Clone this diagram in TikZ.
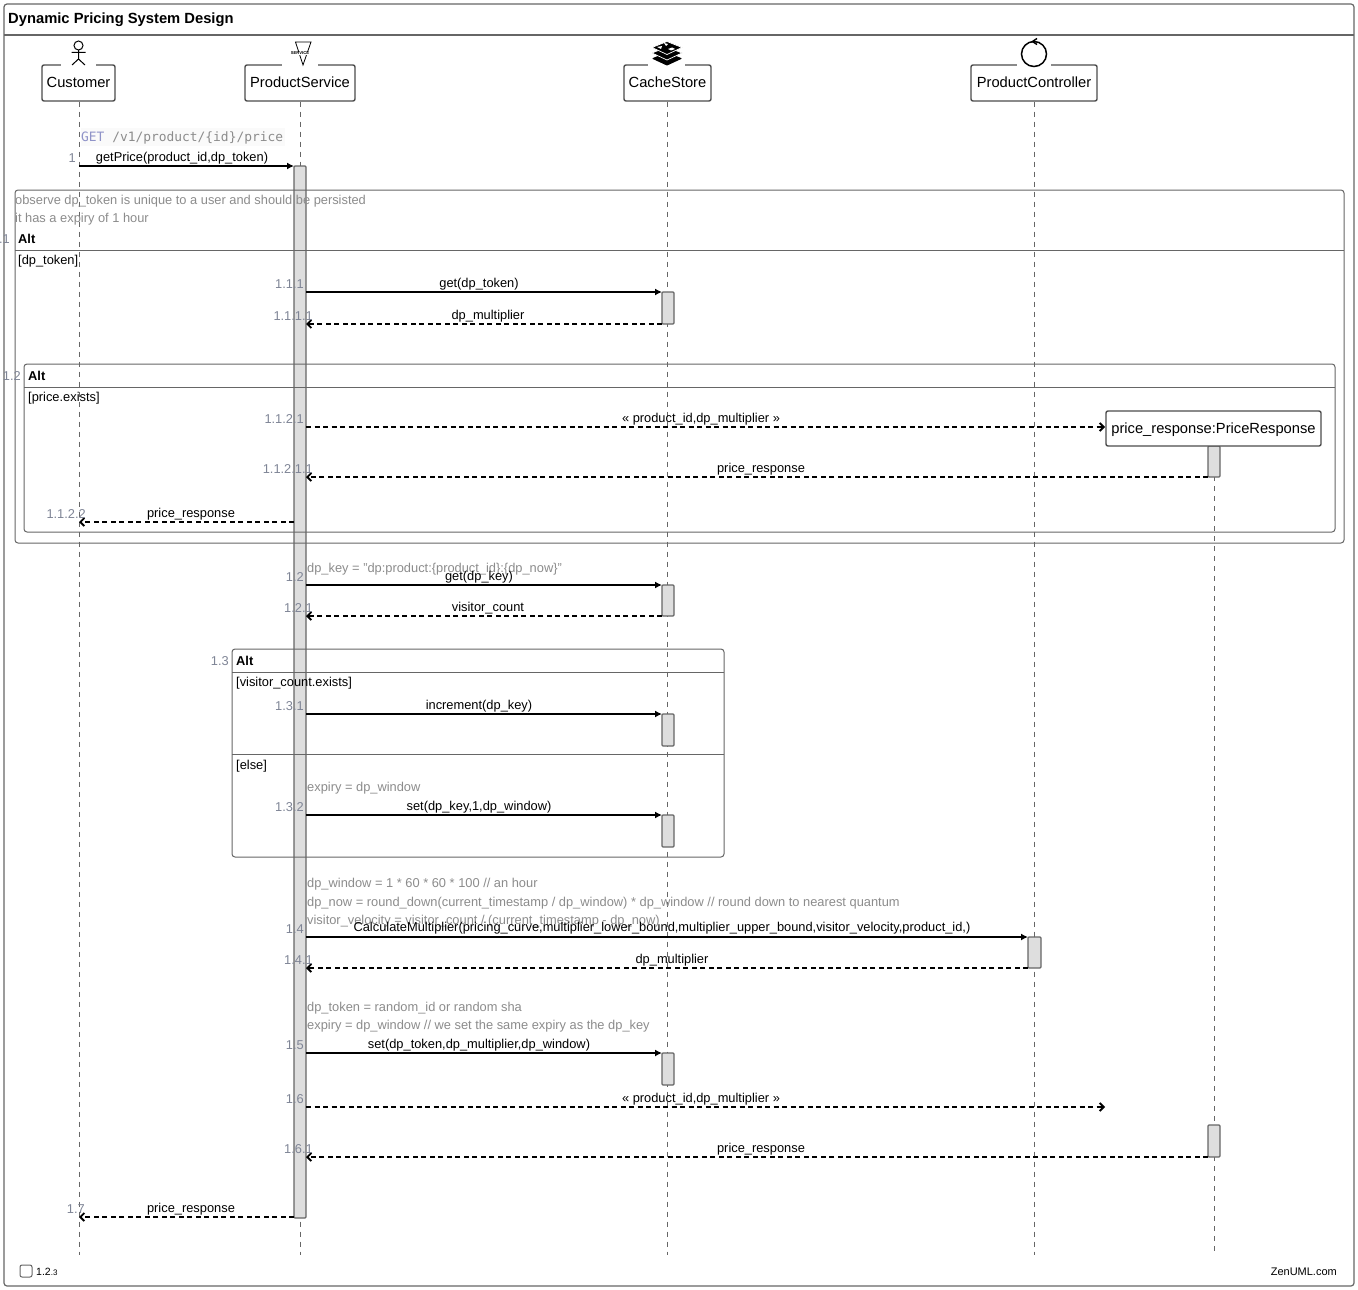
\documentclass[tikz,border=0pt]{standalone}
\usepackage{fontspec}
\setmainfont{Liberation Sans}
\setmonofont{DejaVu Sans Mono}
\usetikzlibrary{arrows.meta}
\definecolor{framegray}{HTML}{666666}
\definecolor{notegray}{HTML}{8C8C8C}
\definecolor{numgray}{HTML}{7F8596}
\definecolor{bargray}{HTML}{DEDEDE}
\definecolor{verbblue}{HTML}{8F93C8}
\tikzset{
  actorbox/.style={draw=black!70, line width=1.4pt, rounded corners=2pt, fill=white, inner sep=0pt, minimum height=36pt, text height=12.5pt, text depth=3pt, font=\fontsize{14.7}{17}\selectfont},
  lifeline/.style={draw=framegray, line width=0.9pt, dash pattern=on 5pt off 5pt},
  actbar/.style={draw=framegray, line width=1.3pt, fill=bargray, rounded corners=1pt},
  frag/.style={draw=framegray, line width=1pt, rounded corners=3pt},
  sync/.style={draw=black, line width=1.7pt, -{Latex[length=7pt,width=7pt]}},
  reply/.style={draw=black, line width=1.7pt, dash pattern=on 5pt off 3.5pt, -{Straight Barb[length=4pt,width=8pt,line width=1.9pt]}},
  lbl/.style={inner sep=0pt, text height=9.5pt, text depth=3pt, yshift=8.2pt, font=\fontsize{12.85}{15}\selectfont},
  txt/.style={inner sep=0pt, anchor=west, text height=9.5pt, text depth=3pt, yshift=-1.2pt, font=\fontsize{12.85}{15}\selectfont},
  note/.style={txt, text=notegray},
  num/.style={inner sep=0pt, anchor=east, text height=9.5pt, text depth=3pt, yshift=-1.2pt, text=numgray, font=\fontsize{12.85}{15}\selectfont},
  alttxt/.style={txt, font=\fontsize{12.85}{15}\selectfont\bfseries}
}
\begin{document}
\begin{tikzpicture}[x=1pt, y=-1pt]

    \useasboundingbox (0,0) rectangle (1358,1290);
    \fill[white] (0,0) rectangle (1358,1290);
    \draw [draw=framegray, line width=1.2pt, rounded corners=3pt] (4,4) rectangle (1354,1286);
    \draw [draw=framegray, line width=1.2pt] (4,35) -- (1354,35);
    \node[txt, anchor=west, font=\fontsize{14.75}{17}\selectfont\bfseries] (title) at (8,19.5) {Dynamic Pricing System Design};

    \node[actorbox, minimum width=73pt] (customer) at (78.5,83) {Customer};
    \node[actorbox, minimum width=110pt] (service) at (300,83) {ProductService};
    \node[actorbox, minimum width=87pt] (cache) at (667.5,83) {CacheStore};
    \node[actorbox, minimum width=126pt] (controller) at (1034,83) {ProductController};

    \coordinate (customerend) at (79,1255);
    \coordinate (serviceend) at (300,1255);
    \coordinate (cacheend) at (667.5,1255);
    \coordinate (controllerend) at (1034.5,1255);
    \coordinate (priceend) at (1214,1252);
    \coordinate (pricetop) at (1214,446);

    \draw [lifeline] (customer.south -| customerend) -- (customerend);
    \draw [lifeline] (service.south -| serviceend) -- (serviceend);
    \draw [lifeline] (cache.south -| cacheend) -- (cacheend);
    \draw [lifeline] (controller.south -| controllerend) -- (controllerend);
    \draw [lifeline] (pricetop) -- (priceend);

    % icons above the participants
    \fill[white] (61,63) rectangle (96,67);
    \fill[white] (282,63) rectangle (318,67);
    \fill[white] (648,63) rectangle (685,67);
    \fill[white] (1017,63) rectangle (1051,67);

    \draw [line width=1pt] (78.5,45.5) circle (4.5);
    \draw [line width=1pt] (78.5,50) -- (78.5,59) (71.5,52.5) -- (85.5,52.5) (72,65) -- (78.5,59) -- (85,65);

    \draw [line width=0.8pt] (295.5,42) -- (311,42) -- (303,65) -- cycle;
    \node[inner sep=0.3pt, fill=white, font=\fontsize{4.2}{5}\selectfont\bfseries] (serviceicon) at (300,53.5) {SERVICE};

    \draw [fill=black, line join=round, line width=1pt] (653,58.5) -- (667,53) -- (681,58.5) -- (667,65) -- cycle;
    \draw [white, fill=black, line width=0.7pt, line join=round] (652,53) -- (667,47) -- (682,53) -- (667,60) -- cycle;
    \draw [white, fill=black, line width=0.7pt, line join=round] (652,47.5) -- (667,41.5) -- (682,47.5) -- (667,54.5) -- cycle;
    \fill[white] (664,43) -- (668,44) -- (666,46) -- cycle;
    \fill[white] (668,49) -- (672,47.5) -- (675,49) -- (671,50.5) -- cycle;
    \fill[white] (657,47) -- (662,46) -- (661,49) -- cycle;

    \draw [line width=1.5pt] (1034,54) circle (12.5);
    \draw [line width=1.4pt] (1037,38.5) -- (1032.5,41.5) -- (1037,44.5);

    % activation bars
    \draw [actbar] (294,166) rectangle (306,1218);
    \draw [actbar] (662,292) rectangle (674,324);
    \draw [actbar] (662,585) rectangle (674,616);
    \draw [actbar] (662,714) rectangle (674,746);
    \draw [actbar] (662,815) rectangle (674,847);
    \draw [actbar] (662,1053) rectangle (674,1085);
    \draw [actbar] (1028,937) rectangle (1041,968);
    \draw [actbar] (1208,446) rectangle (1220,477);
    \draw [actbar] (1208,1125) rectangle (1220,1157);

    % fragments
    \draw [frag] (15,190) rectangle (1344,543);
    \draw [draw=framegray, line width=1pt] (15,250) -- (1344,250);
    \draw [frag] (24,364) rectangle (1335,532);
    \draw [draw=framegray, line width=1pt] (24,387) -- (1335,387);
    \draw [frag] (232,649) rectangle (724,857);
    \draw [draw=framegray, line width=1pt] (232,672) -- (724,672);
    \draw [draw=framegray, line width=1pt] (232,754) -- (724,754);

    \node[alttxt] (alta) at (18,239) {Alt};
    \node[alttxt] (altb) at (28,376) {Alt};
    \node[alttxt] (altc) at (236,661) {Alt};
    \node[txt] (conda) at (18,260) {[dp\_token]};
    \node[txt] (condb) at (28,397) {[price.exists]};
    \node[txt] (condc) at (236,682) {[visitor\_count.exists]};
    \node[txt] (condd) at (236,765) {[else]};
    \node[num] (numa) at (10,239) {.1};
    \node[num] (numb) at (21,376) {1.2};
    \node[num] (numc) at (229,661) {1.3};

    % the request line
    \fill[black!2!white] (81,128) rectangle (285,146);
    \node[txt, font=\fontsize{12.9}{15}\ttfamily] (request) at (81,137) {\textcolor{verbblue}{GET} \textcolor{notegray}{/v1/product/\{id\}/price}};

    % notes
    \node[note] (notea) at (15,200) {observe dp\_token is unique to a user and should be persisted};
    \node[note] (noteb) at (15,218) {it has a expiry of 1 hour};
    \node[note] (notec) at (307,568) {dp\_key = "dp:product:\{product\_id\}:\{dp\_now\}"};
    \node[note] (noted) at (307,787) {expiry = dp\_window};
    \node[note] (notee) at (307,883) {dp\_window = 1 * 60 * 60 * 100 // an hour};
    \node[note] (notef) at (307,902) {dp\_now = round\_down(current\_timestamp / dp\_window) * dp\_window // round down to nearest quantum};
    \node[note] (noteg) at (307,920) {visitor\_velocity = visitor\_count / (current\_timestamp - dp\_now)};
    \node[note] (noteh) at (307,1007) {dp\_token = random\_id or random sha};
    \node[note] (notei) at (307,1025) {expiry = dp\_window // we set the same expiry as the dp\_key};

    % message ends
    \coordinate (ma) at (79,166);
    \coordinate (mb) at (294,166);
    \coordinate (mc) at (306,292);
    \coordinate (md) at (662,292);
    \coordinate (me) at (662,324);
    \coordinate (mf) at (306,324);
    \coordinate (mg) at (306,427);
    \coordinate (mh) at (1105,427);
    \coordinate (mi) at (1208,477);
    \coordinate (mj) at (306,477);
    \coordinate (mk) at (294,522);
    \coordinate (ml) at (79,522);
    \coordinate (mm) at (306,585);
    \coordinate (mn) at (662,585);
    \coordinate (mo) at (662,616);
    \coordinate (mp) at (306,616);
    \coordinate (mq) at (306,714);
    \coordinate (mr) at (662,714);
    \coordinate (ms) at (306,815);
    \coordinate (mt) at (662,815);
    \coordinate (mu) at (306,937);
    \coordinate (mv) at (1028,937);
    \coordinate (mw) at (1028,968);
    \coordinate (mx) at (306,968);
    \coordinate (my) at (306,1053);
    \coordinate (mz) at (662,1053);
    \coordinate (naa) at (306,1107);
    \coordinate (nab) at (1105,1107);
    \coordinate (nac) at (1208,1157);
    \coordinate (nad) at (306,1157);
    \coordinate (nae) at (294,1217);
    \coordinate (naf) at (79,1217);

    \node[actorbox, minimum width=215pt, minimum height=35pt] (price) at (1213.5,428.5) {price\_response:PriceResponse};

    \draw [sync] (ma) to node[lbl, xshift=-4.5pt] {getPrice(product\_id,dp\_token)} (mb);
    \draw [sync] (mc) to node[lbl, xshift=-5pt] {get(dp\_token)} (md);
    \draw [reply] (me) to node[lbl, xshift=4pt] {dp\_multiplier} (mf);
    \draw [reply] (mg) to node[lbl, xshift=-4.5pt] {« product\_id,dp\_multiplier »} (mh);
    \draw [reply] (mi) to node[lbl, xshift=4pt] {price\_response} (mj);
    \draw [reply] (mk) to node[lbl, xshift=4.5pt] {price\_response} (ml);
    \draw [sync] (mm) to node[lbl, xshift=-5pt] {get(dp\_key)} (mn);
    \draw [reply] (mo) to node[lbl, xshift=4pt] {visitor\_count} (mp);
    \draw [sync] (mq) to node[lbl, xshift=-5pt] {increment(dp\_key)} (mr);
    \draw [sync] (ms) to node[lbl, xshift=-5pt] {set(dp\_key,1,dp\_window)} (mt);
    \draw [sync] (mu) to node[lbl, xshift=-5pt, yshift=1pt] {CalculateMultiplier(pricing\_curve,multiplier\_lower\_bound,multiplier\_upper\_bound,visitor\_velocity,product\_id,)} (mv);
    \draw [reply] (mw) to node[lbl, xshift=5pt] {dp\_multiplier} (mx);
    \draw [sync] (my) to node[lbl, xshift=-5pt] {set(dp\_token,dp\_multiplier,dp\_window)} (mz);
    \draw [reply] (naa) to node[lbl, xshift=-4.5pt] {« product\_id,dp\_multiplier »} (nab);
    \draw [reply] (nac) to node[lbl, xshift=4pt] {price\_response} (nad);
    \draw [reply] (nae) to node[lbl, xshift=4.5pt] {price\_response} (naf);

    % sequence numbers
    \node[num] (seqa) at (76,158) {1};
    \node[num] (seqb) at (304,284) {1.1.1};
    \node[num] (seqc) at (313,316) {1.1.1.1};
    \node[num] (seqd) at (304,419) {1.1.2.1};
    \node[num] (seqe) at (313,469) {1.1.2.1.1};
    \node[num] (seqf) at (86,514) {1.1.2.2};
    \node[num] (seqg) at (304,577) {1.2};
    \node[num] (seqh) at (313,608) {1.2.1};
    \node[num] (seqi) at (304,706) {1.3.1};
    \node[num] (seqj) at (304,807) {1.3.2};
    \node[num] (seqk) at (304,929) {1.4};
    \node[num] (seql) at (313,960) {1.4.1};
    \node[num] (seqm) at (304,1045) {1.5};
    \node[num] (seqn) at (304,1099) {1.6};
    \node[num] (seqo) at (313,1149) {1.6.1};
    \node[num] (seqp) at (85,1209) {1.7};

    % footer
    \draw [draw=framegray, line width=1pt, rounded corners=2pt] (20,1265) rectangle (32,1277);
    \node[txt, font=\fontsize{10.5}{12}\selectfont] (version) at (36,1271) {1.2{\fontsize{8}{10}\selectfont .3}};
    \node[txt, anchor=east, font=\fontsize{11}{13}\selectfont] (brand) at (1337,1271) {ZenUML.com};

  \end{tikzpicture}
\end{document}
